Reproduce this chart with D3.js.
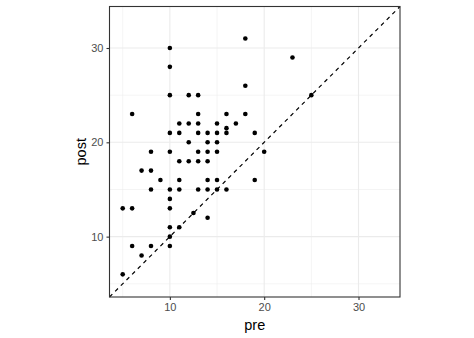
<!DOCTYPE html>
<html>
<head>
<meta charset="utf-8">
<script src="https://cdn.jsdelivr.net/npm/d3@7"></script>
<style>
  body { margin: 0; background: #fff; }
  text { font-family: "Liberation Sans", Arial, sans-serif; }
</style>
</head>
<body>
<div id="chart"></div>
<script>
// pre / post scores
const pre = [10, 10, 10, 12, 13, 6, 10, 11, 12, 13, 13, 11, 12, 13, 14, 14, 15, 15, 15, 16, 16, 16, 17, 18, 18, 18, 19,
  8, 10, 13, 14, 15, 11, 12, 13, 14, 7, 8, 9, 11, 14, 15, 19,
  8, 10, 11, 13, 14, 15, 16, 10, 5, 6, 10, 12.5, 14, 10, 11, 10, 6, 8, 10, 7, 5, 23, 25, 20];
const post = [30, 28, 25, 25, 25, 23, 21, 22, 22, 22, 23, 21, 20, 21, 21, 20, 22, 21, 20, 23, 21.5, 21, 22, 23, 26, 31, 21,
  19, 19, 19, 19, 19, 18, 18, 18, 18, 17, 17, 16, 16, 16, 16, 16,
  15, 15, 15, 15, 15, 15, 15, 14, 13, 13, 13, 12.5, 12, 11, 11, 10, 9, 9, 9, 8, 6, 29, 25, 19];
const majorTicks = [10, 20, 30];
const minorTicks = [5, 15, 25];
const limits = [3.6, 34.4];

const width = 474, height = 338;
const panel = { left: 109.5, top: 6.5, right: 400, bottom: 297 };

const svg = d3.select('#chart').append('svg')
  .attr('width', width)
  .attr('height', height);

const x = d3.scaleLinear().domain(limits).range([panel.left, panel.right]);
const y = d3.scaleLinear().domain(limits).range([panel.bottom, panel.top]);

// grid
const grid = svg.append('g');
grid.selectAll('.vminor').data(minorTicks).enter().append('line')
  .attr('x1', d => x(d)).attr('x2', d => x(d))
  .attr('y1', panel.top).attr('y2', panel.bottom)
  .attr('stroke', '#ebebeb').attr('stroke-width', 0.55);
grid.selectAll('.hminor').data(minorTicks).enter().append('line')
  .attr('y1', d => y(d)).attr('y2', d => y(d))
  .attr('x1', panel.left).attr('x2', panel.right)
  .attr('stroke', '#ebebeb').attr('stroke-width', 0.55);
grid.selectAll('.vmajor').data(majorTicks).enter().append('line')
  .attr('x1', d => x(d)).attr('x2', d => x(d))
  .attr('y1', panel.top).attr('y2', panel.bottom)
  .attr('stroke', '#ebebeb').attr('stroke-width', 1.1);
grid.selectAll('.hmajor').data(majorTicks).enter().append('line')
  .attr('y1', d => y(d)).attr('y2', d => y(d))
  .attr('x1', panel.left).attr('x2', panel.right)
  .attr('stroke', '#ebebeb').attr('stroke-width', 1.1);

// y = x reference line
svg.append('line')
  .attr('x1', x(limits[0])).attr('y1', y(limits[0]))
  .attr('x2', x(limits[1])).attr('y2', y(limits[1]))
  .attr('stroke', '#000')
  .attr('stroke-width', 1.2)
  .attr('stroke-dasharray', '4,4');

// points
svg.append('g').selectAll('circle')
  .data(pre.map((p, i) => ({ pre: p, post: post[i] })))
  .enter().append('circle')
  .attr('cx', d => x(d.pre))
  .attr('cy', d => y(d.post))
  .attr('r', 2.3)
  .attr('fill', '#000');

// panel border
svg.append('rect')
  .attr('x', panel.left).attr('y', panel.top)
  .attr('width', panel.right - panel.left)
  .attr('height', panel.bottom - panel.top)
  .attr('fill', 'none')
  .attr('stroke', '#333')
  .attr('stroke-width', 1.1);

// axes
const xAxis = svg.append('g')
  .attr('transform', `translate(0,${panel.bottom})`)
  .call(d3.axisBottom(x).tickValues(majorTicks).tickSize(3).tickPadding(3));
const yAxis = svg.append('g')
  .attr('transform', `translate(${panel.left},0)`)
  .call(d3.axisLeft(y).tickValues(majorTicks).tickSize(3).tickPadding(3));

[xAxis, yAxis].forEach(a => {
  a.select('.domain').remove();
  a.selectAll('.tick line').attr('stroke', '#333').attr('stroke-width', 1.1);
  a.selectAll('.tick text')
    .attr('fill', null)
    .style('fill', '#4d4d4d')
    .style('font-size', '11px')
    .style('font-family', '"Liberation Sans", Arial, sans-serif');
});

// axis titles
svg.append('text')
  .attr('x', (panel.left + panel.right) / 2)
  .attr('y', 330)
  .attr('text-anchor', 'middle')
  .attr('fill', '#000')
  .style('font-size', '14.5px')
  .text('pre');

svg.append('text')
  .attr('transform', `translate(85.5,${(panel.top + panel.bottom) / 2}) rotate(-90)`)
  .attr('text-anchor', 'middle')
  .attr('fill', '#000')
  .style('font-size', '14.5px')
  .text('post');
</script>
</body>
</html>
